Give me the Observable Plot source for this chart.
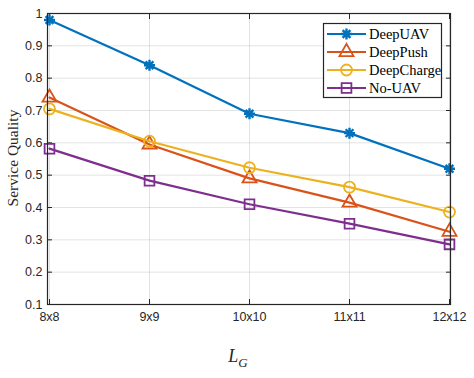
<!DOCTYPE html>
<html>
<head>
<meta charset="utf-8">
<script src="https://cdn.jsdelivr.net/npm/d3@7"></script>
<script src="https://cdn.jsdelivr.net/npm/@observablehq/plot@0.6"></script>
<style>
  html, body { margin: 0; padding: 0; background: #fff; }
  #wrap { position: relative; width: 474px; height: 378px; }
  #legend { position: absolute; left: 0; top: 0; }
</style>
</head>
<body>
<div id="wrap"></div>
<script>
const categories = ["8x8", "9x9", "10x10", "11x11", "12x12"];
const deepUAV    = [0.98, 0.84, 0.69, 0.63, 0.52];
const deepPush   = [0.74, 0.595, 0.49, 0.415, 0.325];
const deepCharge = [0.705, 0.605, 0.523, 0.463, 0.386];
const noUAV      = [0.582, 0.483, 0.41, 0.35, 0.286];
const yTicks = [0.1, 0.2, 0.3, 0.4, 0.5, 0.6, 0.7, 0.8, 0.9, 1];
const seriesNames = ["DeepUAV", "DeepPush", "DeepCharge", "No-UAV"];
const seriesColors = ["#0072BD", "#D95319", "#EDB120", "#7E2F8E"];

const asterisk8 = {
  draw(ctx, size) {
    const r = Math.sqrt(size / Math.PI);
    for (let i = 0; i < 4; i++) {
      const a = i * Math.PI / 4;
      ctx.moveTo(r * Math.cos(a), r * Math.sin(a));
      ctx.lineTo(-r * Math.cos(a), -r * Math.sin(a));
    }
  }
};
const symbols = [asterisk8, "triangle", "circle", "square"];
const radii = [5.5, 5.2, 5.5, 5.5];
const values = [deepUAV, deepPush, deepCharge, noUAV];

const series = seriesNames.map((name, i) => ({
  name, color: seriesColors[i], symbol: symbols[i], r: radii[i],
  data: categories.map((c, j) => ({cat: c, v: values[i][j]}))
}));

const ink = "#262626";
const fmt = d => String(+d.toFixed(1));

const marks = [
  Plot.gridY(yTicks, {stroke: ink, strokeOpacity: 0.13}),
  Plot.gridX(categories, {stroke: ink, strokeOpacity: 0.13}),
  Plot.axisY(yTicks, {anchor: "left", tickSize: 0, tickPadding: 5, tickFormat: fmt, fill: ink, label: null}),
  Plot.axisY(yTicks, {anchor: "left", tickSize: 5, dx: 5, tickFormat: null, text: null, stroke: ink, label: null}),
  Plot.axisY(yTicks, {anchor: "right", tickSize: 5, dx: -5, tickFormat: null, text: null, stroke: ink, label: null}),
  Plot.axisX(categories, {anchor: "bottom", tickSize: 0, tickPadding: 8, fill: ink, label: null}),
  Plot.axisX(categories, {anchor: "bottom", tickSize: 5, dy: -5, text: null, stroke: ink, label: null}),
  Plot.axisX(categories, {anchor: "top", tickSize: 5, dy: 5, text: null, stroke: ink, label: null}),
];
for (const s of series) {
  marks.push(Plot.line(s.data, {x: "cat", y: "v", stroke: s.color, strokeWidth: 2.2}));
  marks.push(Plot.dot(s.data, {x: "cat", y: "v", stroke: s.color, fill: "none", strokeWidth: s.symbol === asterisk8 ? 2.4 : 1.8, symbol: () => s.symbol, r: s.r}));
}
marks.push(Plot.frame({stroke: ink, strokeWidth: 1.2}));

const chart = Plot.plot({
  width: 474, height: 378,
  marginLeft: 47, marginRight: 24, marginTop: 13, marginBottom: 74,
  style: {fontFamily: "'Liberation Sans', Arial, Helvetica, sans-serif", background: "#fff"},
  x: {type: "point", domain: categories, padding: 0, axis: null},
  y: {domain: [0.1, 1], axis: null},
  symbol: {type: "identity"},
  marks
});
document.getElementById("wrap").appendChild(chart);

const svg = d3.select(chart);
svg.selectAll("text")
  .style("font-size", "12.5px")
  .style("font-family", "'Liberation Sans', Arial, Helvetica, sans-serif");
// y label
svg.append("text")
  .attr("transform", "translate(14,158) rotate(-90)")
  .attr("text-anchor", "middle")
  .attr("dominant-baseline", "middle")
  .style("font-family", "'Liberation Serif', 'Times New Roman', serif")
  .style("font-size", "15.5px")
  .attr("fill", ink)
  .text("Service Quality");
// x label
const xl = svg.append("text")
  .attr("x", 238).attr("y", 362)
  .style("font-family", "'Liberation Serif', 'Times New Roman', serif")
  .style("font-style", "italic")
  .style("font-size", "18px")
  .attr("fill", ink);
xl.append("tspan").text("L");
xl.append("tspan").style("font-size", "13px").attr("dy", 5).text("G");

// legend
const lg = d3.select("#wrap").append("svg").attr("id", "legend")
  .attr("width", 474).attr("height", 378).style("pointer-events", "none");
lg.append("rect").attr("x", 323.5).attr("y", 23.5).attr("width", 118).attr("height", 74)
  .attr("fill", "#fff").attr("stroke", ink).attr("stroke-width", 1.2);
series.forEach((s, i) => {
  const y = 34 + i * 18;
  const g = lg.append("g");
  g.append("line").attr("x1", 327).attr("x2", 366).attr("y1", y).attr("y2", y)
    .attr("stroke", s.color).attr("stroke-width", 2.2);
  const d3sym = s.symbol === asterisk8 ? asterisk8 :
    ({triangle: d3.symbolTriangle, circle: d3.symbolCircle, square: d3.symbolSquare})[s.symbol];
  g.append("path")
    .attr("transform", `translate(346.5,${y})`)
    .attr("d", d3.symbol(d3sym, Math.PI * s.r * s.r)())
    .attr("fill", "none").attr("stroke", s.color)
    .attr("stroke-width", s.symbol === asterisk8 ? 2.4 : 1.8);
  g.append("text").attr("x", 369).attr("y", y).attr("dominant-baseline", "central")
    .style("font-family", "'Liberation Serif', 'Times New Roman', serif")
    .style("font-size", "14.5px").attr("fill", "#000").text(s.name);
});
</script>
</body>
</html>
